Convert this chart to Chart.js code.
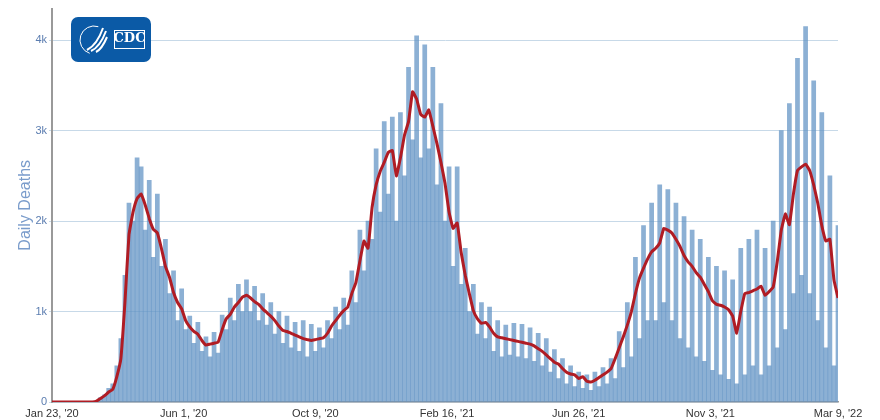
<!DOCTYPE html>
<html>
<head>
<meta charset="utf-8">
<script src="https://cdn.jsdelivr.net/npm/chart.js@4"></script>
<style>
  html, body { margin: 0; padding: 0; background: #fff; }
  #wrap { width: 880px; height: 420px; }
</style>
</head>
<body>
<div id="wrap"><canvas id="deathsChart"></canvas></div>
<script>
// days since Jan 23, '20, one sample every 4 days
const stepDays = 4;
const tickDays = [0, 130, 260, 390, 520, 650, 776];
const tickLabels = ["Jan 23, '20", "Jun 1, '20", "Oct 9, '20", "Feb 16, '21", "Jun 26, '21", "Nov 3, '21", "Mar 9, '22"];
const yTicks = [0, 1000, 2000, 3000, 4000];
const yTickLabels = ['0', '1k', '2k', '3k', '4k'];

const dailyDeaths = [
  0, 0, 0, 0, 0, 0, 0, 0, 0, 0,
  0, 10, 50, 80, 150, 200, 400, 700, 1400, 2200,
  2000, 2700, 2600, 1900, 2450, 1600, 2300, 1500, 1800, 1200,
  1450, 900, 1250, 800, 950, 650, 880, 560, 720, 500,
  770, 540, 960, 800, 1150, 900, 1300, 1000, 1350, 1000,
  1280, 900, 1200, 850, 1100, 750, 1000, 650, 950, 600,
  880, 560, 900, 500, 860, 560, 820, 600, 900, 700,
  1050, 800, 1150, 850, 1450, 1100, 1900, 1450, 2000, 1800,
  2800, 2100, 3100, 2300, 3150, 2000, 3200, 2500, 3700, 2900,
  4050, 2700, 3950, 2800, 3700, 2400, 3300, 2000, 2600, 1500,
  2600, 1300, 1700, 1000, 1300, 750, 1100, 700, 1050, 560,
  900, 500, 850, 520, 870, 500, 860, 480, 820, 450,
  760, 400, 700, 330, 580, 260, 480, 200, 400, 170,
  330, 150, 300, 130, 330, 170, 380, 200, 480, 260,
  780, 380, 1100, 500, 1600, 700, 1950, 900, 2200, 900,
  2400, 1100, 2350, 900, 2200, 700, 2050, 600, 1900, 500,
  1800, 450, 1600, 350, 1500, 300, 1450, 250, 1350, 200,
  1700, 300, 1800, 400, 1900, 300, 1700, 400, 2000, 600,
  3000, 800, 3300, 1200, 3800, 1400, 4150, 1200, 3550, 900,
  3200, 600, 2500, 400, 1950
];

const sevenDayAvg = [
  0, 0, 0, 0, 0, 0, 0, 0, 0, 0,
  0, 10, 40, 70, 110, 140, 280, 480, 1100, 1850,
  2100, 2250, 2300, 2180, 2030, 1910, 1870, 1700, 1500, 1380,
  1210, 1100, 1030, 900, 830, 780, 750, 680, 630, 640,
  650, 660, 800, 920, 970, 1050, 1100, 1160, 1180, 1150,
  1110, 1080, 1030, 990, 950, 900, 840, 790, 780, 760,
  740, 720, 700, 690, 680, 690, 700, 710, 760, 840,
  900, 960, 1010, 1050, 1200, 1320, 1560, 1780, 1700, 2150,
  2400, 2550, 2650, 2760, 2780, 2500, 2700, 2950, 3100, 3430,
  3350, 3180, 3150, 3230, 3050, 2860, 2650, 2420, 2100, 1920,
  1980, 1650, 1400, 1200, 1010, 920, 870, 880, 830, 760,
  720, 710, 700, 690, 680, 670, 660, 650, 640, 620,
  590, 560, 520, 480, 440, 420, 370, 330, 310, 300,
  260, 280, 230, 220, 240, 270, 300, 330, 370, 480,
  600, 720, 850, 1000, 1200, 1370, 1480, 1580, 1660, 1700,
  1760, 1920, 1900, 1870, 1800, 1720, 1620, 1550, 1500, 1430,
  1380, 1300, 1220, 1120, 1080, 1070, 1050, 1020, 950, 760,
  1000, 1200, 1210, 1230, 1250, 1280, 1180, 1220, 1270, 1550,
  1900, 2080, 1960, 2300, 2560, 2600, 2630, 2560, 2400, 2200,
  1950, 1780, 1800, 1350, 1150
];

const cdcLogo = {
  id: 'cdcLogo',
  afterDraw(chart) {
    const c = chart.ctx;
    c.save();
    c.fillStyle = '#0b5aa6';
    c.beginPath();
    c.roundRect(71, 17, 80, 45, 7);
    c.fill();
    c.strokeStyle = '#fff';
    c.lineWidth = 1;
    c.beginPath();
    c.arc(94, 40, 14, Math.PI * 0.6, Math.PI * 1.6);
    c.stroke();
    c.lineWidth = 2;
    c.beginPath();
    c.moveTo(87, 50); c.quadraticCurveTo(97, 45, 103, 28);
    c.moveTo(91, 51); c.quadraticCurveTo(100, 47, 106, 31);
    c.moveTo(96, 52); c.quadraticCurveTo(102, 49, 107, 37);
    c.stroke();
    c.lineWidth = 1;
    c.strokeRect(114.5, 30.5, 30, 18);
    c.fillStyle = '#fff';
    c.font = 'bold 13px "DejaVu Serif", serif';
    c.textAlign = 'center';
    c.textBaseline = 'middle';
    c.fillText('CDC', 129.5, 39);
    c.restore();
  }
};

const ctx = document.getElementById('deathsChart').getContext('2d');
new Chart(ctx, {
  data: {
    datasets: [{
      type: 'line',
      label: '7-Day Moving Average',
      data: sevenDayAvg.map((v, i) => ({ x: i * stepDays, y: v })),
      borderColor: '#b01c24',
      borderWidth: 3,
      pointRadius: 0,
      tension: 0.1,
      order: 0
    }, {
      type: 'bar',
      label: 'Daily Deaths',
      data: dailyDeaths.map((v, i) => ({ x: i * stepDays, y: v })),
      backgroundColor: 'rgba(96, 145, 195, 0.72)',
      barPercentage: 1,
      categoryPercentage: 1,
      order: 1
    }]
  },
  options: {
    responsive: true,
    maintainAspectRatio: false,
    animation: false,
    layout: { padding: { top: 6, right: 42, left: 0, bottom: 0 } },
    plugins: { legend: { display: false }, tooltip: { enabled: false } },
    scales: {
      x: {
        type: 'linear',
        min: 0,
        max: 776,
        offset: false,
        afterBuildTicks: s => { s.ticks = tickDays.map(v => ({ value: v })); },
        afterFit: s => { s.height = 18; },
        ticks: {
          autoSkip: false,
          maxRotation: 0,
          padding: 1,
          color: '#333',
          font: { family: 'Arial, "Liberation Sans", sans-serif', size: 11 },
          callback: v => tickLabels[tickDays.indexOf(v)]
        },
        grid: { display: false, drawTicks: true, tickLength: 4 },
        border: { color: '#999', width: 1.5 }
      },
      y: {
        min: 0,
        max: 4350,
        afterBuildTicks: s => { s.ticks = yTicks.map(v => ({ value: v })); },
        afterFit: s => { s.width = 52; },
        ticks: {
          padding: 2,
          color: '#5b7db0',
          font: { family: 'Arial, "Liberation Sans", sans-serif', size: 11 },
          callback: v => yTickLabels[yTicks.indexOf(v)]
        },
        title: {
          display: true,
          text: 'Daily Deaths',
          color: '#7a9ccb',
          padding: { top: 16, bottom: 0 },
          font: { family: 'Arial, "Liberation Sans", sans-serif', size: 16 }
        },
        grid: { color: '#c7d9e8', tickLength: 3 },
        border: { color: '#999', width: 2 }
      }
    }
  },
  plugins: [cdcLogo]
});
</script>
</body>
</html>
